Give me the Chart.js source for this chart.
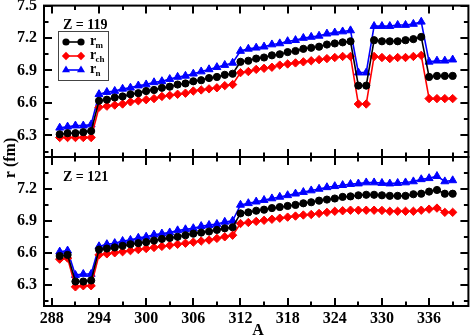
<!DOCTYPE html>
<html><head><meta charset="utf-8">
<script src="https://cdn.jsdelivr.net/npm/chart.js@4/dist/chart.umd.min.js"></script>
<style>
html,body{margin:0;padding:0;background:#fff;}
#wrap{position:relative;width:474px;height:336px;overflow:hidden;}
canvas{position:absolute;left:0;top:0;}
</style></head><body>
<div id="wrap"><canvas id="cTop" width="474" height="336"></canvas><canvas id="cBot" width="474" height="336"></canvas></div>
<script>
// ---- data ----
const massNumbers = [289,290,291,292,293,294,295,296,297,298,299,300,301,302,303,304,305,306,307,308,309,310,311,312,313,314,315,316,317,318,319,320,321,322,323,324,325,326,327,328,329,330,331,332,333,334,335,336,337,338,339];
const xTickLabels = [288,294,300,306,312,318,324,330,336];
const topYTicks = [6.3,6.6,6.9,7.2,7.5];
const botYTicks = [6.3,6.6,6.9,7.2];
const seriesNames = ['r_m','r_ch','r_n'];

// Z = 119
const z119_rm = [6.31,6.32,6.32,6.33,6.34,
 6.62,6.63,6.65,6.66,6.68,6.69,6.71,6.72,6.74,6.75,6.77,6.78,6.80,6.81,6.83,6.84,6.86,6.87,
 6.98,6.99,7.01,7.02,7.04,7.05,7.07,7.08,7.10,7.11,7.12,7.14,7.15,7.16,7.17,
 6.76,6.76,
 7.18,7.17,7.17,7.17,7.18,7.19,7.21,
 6.84,6.85,6.85,6.85];
const z119_rch = [6.28,6.28,6.28,6.28,6.28,
 6.56,6.57,6.58,6.59,6.61,6.62,6.63,6.64,6.66,6.67,6.68,6.69,6.71,6.72,6.73,6.74,6.76,6.77,
 6.88,6.89,6.91,6.92,6.93,6.95,6.96,6.97,6.98,6.99,7.00,7.01,7.02,7.03,7.03,
 6.59,6.59,
 7.03,7.02,7.01,7.02,7.02,7.03,7.04,
 6.64,6.64,6.64,6.64];
const z119_rn = [6.37,6.38,6.39,6.39,6.40,
 6.68,6.70,6.71,6.73,6.74,6.76,6.77,6.79,6.80,6.82,6.84,6.85,6.87,6.89,6.91,6.93,6.95,6.97,
 7.08,7.10,7.11,7.12,7.14,7.15,7.17,7.18,7.20,7.21,7.22,7.24,7.25,7.26,7.27,
 6.88,6.88,
 7.31,7.31,7.31,7.32,7.32,7.33,7.35,
 6.98,6.99,6.99,7.00];

// Z = 121
const z121_rm = [6.57,6.58,6.33,6.33,6.34,
 6.63,6.64,6.65,6.665,6.68,6.69,6.70,6.715,6.73,6.74,6.75,6.765,6.78,6.79,6.80,6.815,6.83,6.84,
 6.97,6.98,6.995,7.005,7.02,7.03,7.04,7.05,7.065,7.075,7.09,7.10,
 7.11,7.125,7.13,7.14,7.145,7.145,7.14,7.135,7.135,7.135,7.15,7.155,7.175,7.19,7.155,7.155];
const z121_rch = [6.54,6.55,6.28,6.29,6.29,
 6.58,6.59,6.60,6.61,6.62,6.63,6.64,6.65,6.66,6.67,6.68,6.69,6.70,6.71,6.72,6.735,6.75,6.765,
 6.875,6.885,6.895,6.905,6.915,6.925,6.935,6.945,6.955,6.96,6.97,6.98,
 6.99,6.995,7.00,7.00,7.00,7.00,6.998,6.99,6.99,6.99,6.99,7.00,7.01,7.02,6.98,6.98];
const z121_rn = [6.61,6.62,6.39,6.40,6.40,
 6.66,6.68,6.69,6.71,6.72,6.74,6.75,6.77,6.78,6.79,6.81,6.82,6.83,6.85,6.86,6.87,6.89,6.90,
 7.05,7.065,7.08,7.095,7.11,7.125,7.14,7.155,7.17,7.185,7.20,7.215,
 7.225,7.235,7.245,7.25,7.26,7.26,7.255,7.25,7.255,7.26,7.27,7.29,7.30,7.32,7.27,7.28];

// ---- styling ----
const SERIF = '"Liberation Serif","Times New Roman",serif';
const styles = [
  {color:'#000000', pointStyle:'circle',  radius:3.6},
  {color:'#ff0000', pointStyle:'rectRot', radius:4.2},
  {color:'#0000ff', pointStyle:'triangle',radius:4.6}
];
function makeDatasets(arrs){
  return arrs.map((vals,i)=>({
    label: seriesNames[i],
    data: massNumbers.map((a,k)=>({x:a,y:vals[k]})),
    borderColor: styles[i].color, backgroundColor: styles[i].color,
    borderWidth: 1.6, pointStyle: styles[i].pointStyle,
    pointRadius: styles[i].radius, pointBorderWidth: 1,
    pointBorderColor: styles[i].color, pointBackgroundColor: styles[i].color,
    tension: 0, clip: false
  }));
}

const frameTicks = {
  id:'frameTicks',
  afterDatasetsDraw(chart){
    const {ctx, chartArea:a, scales:{x,y}} = chart;
    ctx.save();
    ctx.strokeStyle='#000'; ctx.lineWidth=2; ctx.lineCap='butt';
    ctx.beginPath();
    for (let v = xTickLabels[0]-3; v <= x.max; v += 3) {
      if (v < x.min) continue;
      const major = (Math.round(v - xTickLabels[0]) % 6) === 0;
      const L = major ? 8 : 4.5;
      const px = Math.round(x.getPixelForValue(v));
      ctx.moveTo(px, a.bottom); ctx.lineTo(px, a.bottom - L);
      ctx.moveTo(px, a.top); ctx.lineTo(px, a.top + L);
    }
    for (let k = 0; k < 20; k++) {
      const v = 6.0 + k*0.15;
      if (v < y.min - 1e-6 || v > y.max + 1e-6) continue;
      const major = k % 2 === 0;
      const L = major ? 8 : 4.5;
      const py = Math.round(y.getPixelForValue(v));
      ctx.moveTo(a.left, py); ctx.lineTo(a.left + L, py);
      ctx.moveTo(a.right, py); ctx.lineTo(a.right - L, py);
    }
    ctx.stroke();
    ctx.strokeRect(a.left, a.top, a.right - a.left, a.bottom - a.top);
    ctx.restore();
  }
};

function marker(ctx, style, cx, cy, r, color){
  ctx.fillStyle = color;
  ctx.beginPath();
  if (style === 'circle') { ctx.arc(cx, cy, r, 0, Math.PI*2); }
  else if (style === 'rectRot') { ctx.moveTo(cx, cy-r); ctx.lineTo(cx+r, cy); ctx.lineTo(cx, cy+r); ctx.lineTo(cx-r, cy); ctx.closePath(); }
  else { ctx.moveTo(cx, cy-r); ctx.lineTo(cx+r*0.87, cy+r*0.5); ctx.lineTo(cx-r*0.87, cy+r*0.5); ctx.closePath(); }
  ctx.fill();
}

const topTexts = {
  id:'topTexts',
  afterDraw(chart){
    const ctx = chart.ctx;
    ctx.save();
    ctx.fillStyle='#000';
    ctx.font = 'bold 14px ' + SERIF;
    ctx.textBaseline='middle'; ctx.textAlign='left';
    ctx.fillText('Z = 119', 63, 25);
    ctx.strokeStyle='#444'; ctx.lineWidth=1;
    ctx.strokeRect(58.5, 31.5, 50, 49);
    const rows = [42, 56, 70];
    const subs = ['m','ch','n'];
    rows.forEach((ry,i)=>{
      const st = styles[i];
      ctx.strokeStyle = st.color; ctx.lineWidth = 1.6;
      ctx.beginPath(); ctx.moveTo(66, ry); ctx.lineTo(81, ry); ctx.stroke();
      marker(ctx, st.pointStyle, 66, ry, st.radius, st.color);
      marker(ctx, st.pointStyle, 81, ry, st.radius, st.color);
      ctx.fillStyle='#000';
      ctx.font = 'bold 14px ' + SERIF; ctx.textBaseline='alphabetic';
      ctx.fillText('r', 90, ry+3);
      ctx.font = 'bold 9px ' + SERIF;
      ctx.fillText(subs[i], 95.5, ry+6);
    });
    ctx.translate(11, 158);
    ctx.rotate(-Math.PI/2);
    ctx.font = 'bold 16px ' + SERIF;
    ctx.textAlign='center'; ctx.textBaseline='middle';
    ctx.fillText('r (fm)', 0, 0);
    ctx.restore();
  }
};
const botTexts = {
  id:'botTexts',
  afterDraw(chart){
    const ctx = chart.ctx;
    ctx.save();
    ctx.fillStyle='#000';
    ctx.font = 'bold 14px ' + SERIF;
    ctx.textBaseline='middle'; ctx.textAlign='left';
    ctx.fillText('Z = 121', 63, 177);
    ctx.font = 'bold 16px ' + SERIF; ctx.textAlign='center'; ctx.textBaseline='alphabetic';
    ctx.fillText('A', 258, 335);
    ctx.restore();
  }
};

function yScale(ticksArr){
  return {
    type:'linear', min:6.1, max:7.5,
    grid:{display:false, drawTicks:false}, border:{display:false},
    afterBuildTicks(s){ s.ticks = ticksArr.map(v=>({value:v})); },
    afterFit(s){ s.width = 44; s.paddingTop = 0; s.paddingBottom = 0; },
    ticks:{ padding:7, color:'#000', font:{family:SERIF, size:16, weight:'bold'},
      callback:(v)=>Number(v).toFixed(1) }
  };
}
function xScale(showLabels){
  return {
    type:'linear', min:287, max:341,
    grid:{display:false, drawTicks:false}, border:{display:false},
    afterBuildTicks(s){ s.ticks = xTickLabels.map(v=>({value:v})); },
    afterFit(s){ s.height = showLabels ? 30 : 0; s.paddingLeft = 0; s.paddingRight = 0; },
    ticks:{ display:showLabels, autoSkip:false, maxRotation:0, padding:3, color:'#000',
      font:{family:SERIF, size:16, weight:'bold'}, callback:(v)=>String(v) }
  };
}
const common = {
  responsive:false, animation:false, devicePixelRatio:1,
  plugins:{legend:{display:false}, tooltip:{enabled:false}}
};

new Chart(document.getElementById('cTop'), {
  type:'line',
  data:{datasets: makeDatasets([z119_rm, z119_rch, z119_rn])},
  options:Object.assign({}, common, {
    layout:{padding:{top:5, right:2, bottom:179, left:0}},
    scales:{x:xScale(false), y:yScale(topYTicks)}
  }),
  plugins:[frameTicks, topTexts]
});
new Chart(document.getElementById('cBot'), {
  type:'line',
  data:{datasets: makeDatasets([z121_rm, z121_rch, z121_rn])},
  options:Object.assign({}, common, {
    layout:{padding:{top:157, right:2, bottom:0, left:0}},
    scales:{x:xScale(true), y:yScale(botYTicks)}
  }),
  plugins:[frameTicks, botTexts]
});
</script>
</body></html>
